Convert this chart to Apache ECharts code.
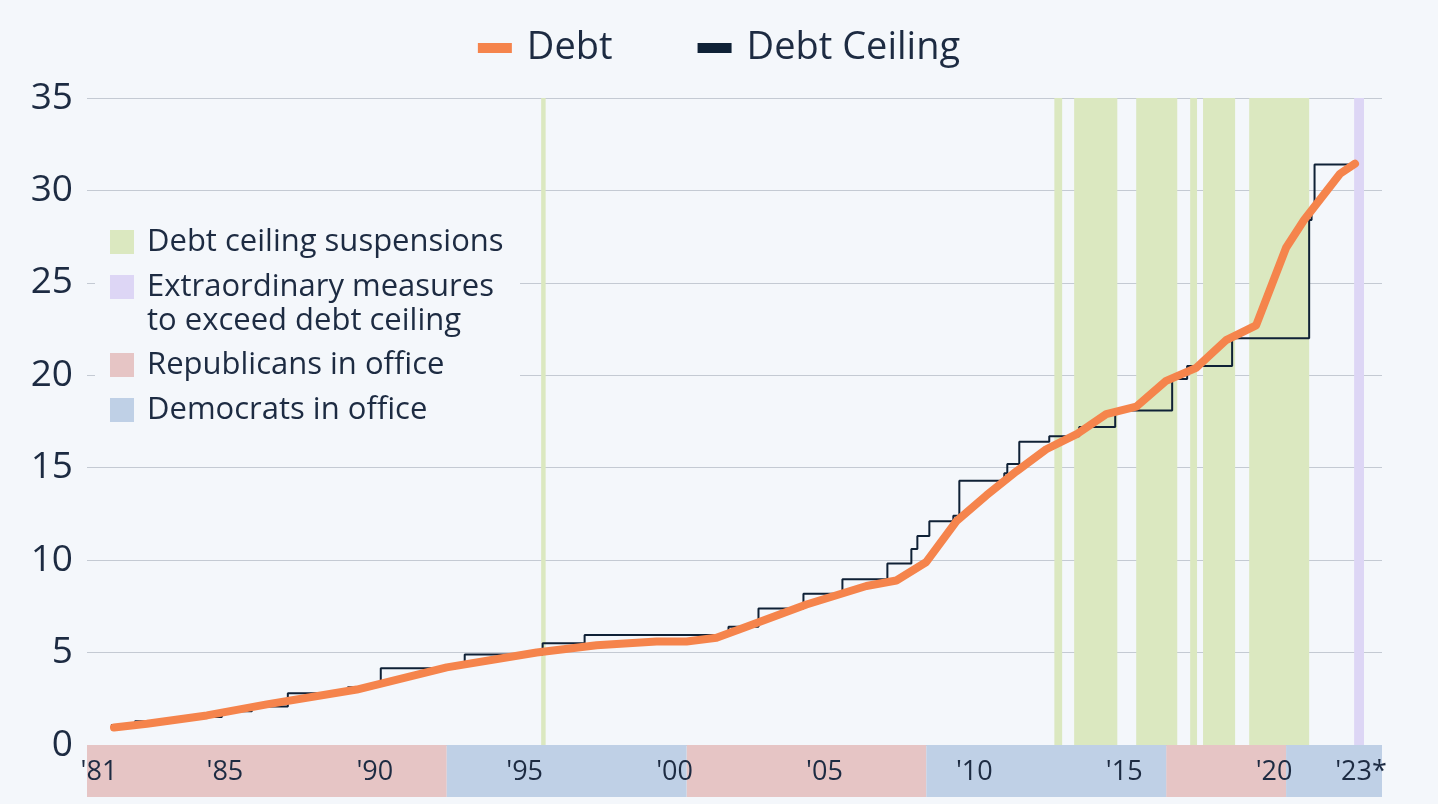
<!DOCTYPE html>
<html>
<head>
<meta charset="utf-8">
<title>Debt vs Debt Ceiling</title>
<script src="https://cdn.jsdelivr.net/npm/echarts@6/dist/echarts.min.js"></script>
<style>
  html, body { margin: 0; padding: 0; background: #f4f7fb; }
  #main { width: 1438px; height: 804px; }
</style>
</head>
<body>
<div id="main"></div>
<script>
// debt (trillion USD) by year
var debt = [
  [1981.9, 0.95], [1983, 1.15], [1985, 1.6], [1987, 2.2], [1990, 3.0], [1993, 4.2],
  [1996, 5.0], [1998, 5.4], [2000, 5.6], [2001, 5.6], [2002, 5.8], [2003, 6.4],
  [2005, 7.6], [2007, 8.6], [2008, 8.9], [2009, 9.9], [2010, 12.1], [2011, 13.5],
  [2012, 14.8], [2013, 16.0], [2014, 16.8], [2015, 17.9], [2016, 18.3], [2017, 19.7],
  [2018, 20.4], [2019, 21.9], [2020, 22.7], [2021, 26.9], [2021.6, 28.4],
  [2022.8, 30.9], [2023.3, 31.45]
];
// debt ceiling steps (start of each level)
var ceiling = [
  [1981.8, 1.08], [1982.3, 1.14], [1982.6, 1.29], [1983.5, 1.39], [1984.2, 1.52],
  [1985.5, 1.82], [1986.5, 2.08], [1987.7, 2.8], [1989.7, 3.12], [1990.4, 3.23],
  [1990.8, 4.15], [1993.3, 4.37], [1993.6, 4.9], [1996.2, 5.5], [1997.6, 5.95],
  [2002.4, 6.4], [2003.4, 7.38], [2004.9, 8.18], [2006.2, 8.97], [2007.7, 9.82],
  [2008.5, 10.6], [2008.7, 11.3], [2009.1, 12.1], [2009.9, 12.4], [2010.1, 14.3],
  [2011.6, 14.7], [2011.7, 15.2], [2012.1, 16.4], [2013.1, 16.7], [2014.1, 17.2],
  [2015.3, 18.1], [2017.2, 19.8], [2017.7, 20.5], [2019.2, 22.0], [2021.77, 28.4],
  [2021.85, 28.9], [2021.95, 31.4], [2023.3, 31.4]
];
var suspensions = [[2013.27, 2013.53], [2013.93, 2015.37], [2016.0, 2017.37],
  [2017.8, 2018.03], [2018.23, 2019.3], [2019.77, 2021.77], [1996.15, 1996.3]];
var extraordinary = [[2023.27, 2023.6]];
var republicans = [[1981, 1993], [2001, 2009], [2017, 2021]];
var democrats = [[1993, 2001], [2009, 2017], [2021, 2024.2]];
var tickValues = [1981.4, 1985.6, 1990.6, 1995.6, 2000.6, 2005.6, 2010.6, 2015.6, 2020.6, 2023.5];
var tickLabels = ["'81", "'85", "'90", "'95", "'00", "'05", "'10", "'15", "'20", "'23*"];

var bg = '#f4f7fb', ink = '#1d2b42';
function areas(list, color) {
  return list.map(function (r) {
    return [{ xAxis: r[0], itemStyle: { color: color } }, { xAxis: r[1] }];
  });
}

var chart = echarts.init(document.getElementById('main'));
var keys = [
  ['#dbe8c0', 'Debt ceiling suspensions', 242, 242],
  ['#ddd6f5', 'Extraordinary measures\nto exceed debt ceiling', 304, 287],
  ['#e6c5c5', 'Republicans in office', 365, 365],
  ['#bfd0e6', 'Democrats in office', 410, 410]
];
var graphics = [{ type: 'rect', shape: { x: 95, y: 222, width: 425, height: 205 }, style: { fill: bg }, z: 50 }];
keys.forEach(function (k) {
  graphics.push({ type: 'rect', shape: { x: 110, y: k[3] - 12, width: 24, height: 24 }, style: { fill: k[0] }, z: 51 });
  graphics.push({ type: 'text', x: 147, y: k[2], style: { text: k[1], fill: ink, font: '31px "Open Sans"', textVerticalAlign: 'middle', lineHeight: 34 }, z: 51 });
});

chart.setOption({
  backgroundColor: bg,
  animation: false,
  textStyle: { fontFamily: 'Open Sans' },
  legend: {
    top: 24, left: 'center', itemGap: 85, itemWidth: 34, itemHeight: 10,
    textStyle: { fontSize: 38, color: ink, padding: [0, 0, 0, 10] },
    data: [
      { name: 'Debt', icon: 'rect', itemStyle: { color: '#f5844c' } },
      { name: 'Debt Ceiling', icon: 'rect', itemStyle: { color: '#0f2136' } }
    ]
  },
  grid: [
    { left: 87, right: 56, top: 98, bottom: 59 },
    { left: 87, right: 56, top: 745, bottom: 7 }
  ],
  xAxis: [
    { type: 'value', gridIndex: 0, min: 1981, max: 2024.2, z: 20,
      splitLine: { show: false }, axisTick: { show: false },
      axisLine: { show: false },
      axisLabel: { customValues: tickValues, formatter: function (v) {
        var i = tickValues.indexOf(v); return i >= 0 ? tickLabels[i] : ''; },
        fontSize: 27, color: ink, margin: 14 } },
    { type: 'value', gridIndex: 1, min: 1981, max: 2024.2, show: false }
  ],
  yAxis: [
    { type: 'value', gridIndex: 0, min: 0, max: 35, interval: 5,
      axisLabel: { fontSize: 37, color: ink, margin: 14 },
      splitLine: { lineStyle: { color: '#c4cad3', width: 1.2 } },
      axisLine: { show: false }, axisTick: { show: false } },
    { type: 'value', gridIndex: 1, min: 0, max: 1, show: false }
  ],
  series: [
    { type: 'line', name: 'bands', xAxisIndex: 0, yAxisIndex: 0, data: [], silent: true,
      markArea: { silent: true, data: areas(suspensions, '#dbe8c0').concat(areas(extraordinary, '#ddd6f5')) } },
    { type: 'line', name: 'party', xAxisIndex: 1, yAxisIndex: 1, data: [], silent: true, z: 0,
      markArea: { silent: true, data: areas(republicans, '#e6c5c5').concat(areas(democrats, '#bfd0e6')) } },
    { type: 'line', name: 'Debt Ceiling', data: ceiling, step: 'end', showSymbol: false,
      lineStyle: { color: '#0f2136', width: 2 }, z: 3 },
    { type: 'line', name: 'Debt', data: debt, showSymbol: false,
      lineStyle: { color: '#f5844c', width: 8, cap: 'round', join: 'round' }, z: 4 }
  ],
  graphic: graphics
});
</script>
</body>
</html>
